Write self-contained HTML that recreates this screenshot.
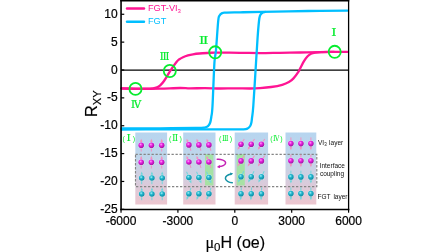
<!DOCTYPE html>
<html><head><meta charset="utf-8"><title>Hall resistance</title>
<style>html,body{margin:0;padding:0;background:#fff;width:448px;height:252px;overflow:hidden}</style>
</head><body>
<svg width="448" height="252" viewBox="0 0 448 252" style="position:absolute;left:0;top:0">
<defs>
<linearGradient id="pg" x1="0" y1="0" x2="0" y2="1"><stop offset="0" stop-color="#b7d5ef"/><stop offset="0.35" stop-color="#bfd6eb"/><stop offset="0.7" stop-color="#d9cbdb"/><stop offset="1" stop-color="#ecc6cf"/></linearGradient>
<radialGradient id="bm" cx="0.4" cy="0.35" r="0.65"><stop offset="0" stop-color="#ffa6f6"/><stop offset="0.4" stop-color="#ea22e2"/><stop offset="1" stop-color="#a012a0"/></radialGradient>
<radialGradient id="bt" cx="0.4" cy="0.35" r="0.65"><stop offset="0" stop-color="#a8f2f6"/><stop offset="0.42" stop-color="#22b6ce"/><stop offset="1" stop-color="#0f8aa2"/></radialGradient>
</defs>
<rect width="448" height="252" fill="#fff"/>
<line x1="121.05" y1="70" x2="348.6" y2="70" stroke="#000" stroke-width="1.25"/>
<g fill="none" stroke-linecap="round" stroke-linejoin="round">
<path d="M121.50,88.50C124.58,88.55 133.58,88.78 140.00,88.80C146.42,88.82 153.33,88.73 160.00,88.60C166.67,88.47 175.00,88.03 180.00,88.00C185.00,87.97 185.83,88.38 190.00,88.40C194.17,88.42 200.00,88.08 205.00,88.10C210.00,88.12 215.00,88.47 220.00,88.50C225.00,88.53 230.00,88.30 235.00,88.30C240.00,88.30 245.83,88.53 250.00,88.50C254.17,88.47 256.48,88.35 260.00,88.10C263.52,87.85 267.40,87.55 271.10,87.00C274.80,86.45 279.23,85.62 282.20,84.80C285.17,83.98 287.02,83.17 288.90,82.10C290.78,81.03 291.95,80.05 293.50,78.40C295.05,76.75 297.03,73.97 298.20,72.20C299.37,70.43 299.53,69.65 300.50,67.80C301.47,65.95 302.82,63.03 304.00,61.10C305.18,59.17 306.43,57.43 307.60,56.20C308.77,54.97 309.68,54.30 311.00,53.70C312.32,53.10 313.83,52.87 315.50,52.60C317.17,52.33 317.92,52.22 321.00,52.10C324.08,51.98 331.83,51.93 334.00,51.90" stroke="#ff1493" stroke-width="2.3"/>
<path d="M347.40,51.90C345.17,51.90 338.57,51.87 334.00,51.90C329.43,51.93 325.67,52.00 320.00,52.10C314.33,52.20 306.67,52.38 300.00,52.50C293.33,52.62 286.67,52.70 280.00,52.80C273.33,52.90 266.67,53.10 260.00,53.10C253.33,53.10 247.50,52.88 240.00,52.80C232.50,52.72 220.17,52.58 215.00,52.60C209.83,52.62 211.58,52.75 209.00,52.90C206.42,53.05 202.17,53.27 199.50,53.50C196.83,53.73 194.92,53.98 193.00,54.30C191.08,54.62 189.67,54.92 188.00,55.40C186.33,55.88 184.50,56.52 183.00,57.20C181.50,57.88 180.12,58.67 179.00,59.50C177.88,60.33 177.70,60.40 176.30,62.20C174.90,64.00 172.65,67.17 170.60,70.30C168.55,73.43 165.73,78.48 164.00,81.00C162.27,83.52 161.37,84.33 160.20,85.40C159.03,86.47 158.20,86.92 157.00,87.40C155.80,87.88 155.00,88.10 153.00,88.30C151.00,88.50 147.92,88.55 145.00,88.60C142.08,88.65 139.42,88.65 135.50,88.60C131.58,88.55 123.83,88.35 121.50,88.30" stroke="#ff1493" stroke-width="2.3"/>
<path d="M347.40,10.70C340.83,10.75 322.23,10.80 308.00,11.00C293.77,11.20 273.33,11.68 262.00,11.90C250.67,12.12 246.08,12.18 240.00,12.30C233.92,12.42 228.47,12.47 225.50,12.60C222.53,12.73 223.18,12.63 222.20,13.10C221.22,13.57 220.27,14.08 219.60,15.40C218.93,16.72 218.80,15.23 218.20,21.00C217.60,26.77 216.63,43.00 216.00,50.00C215.37,57.00 214.98,53.67 214.40,63.00C213.82,72.33 213.02,97.00 212.50,106.00C211.98,115.00 211.68,114.25 211.30,117.00C210.92,119.75 210.75,120.97 210.20,122.50C209.65,124.03 208.95,125.35 208.00,126.20C207.05,127.05 206.50,127.30 204.50,127.60C202.50,127.90 203.42,127.88 196.00,128.00C188.58,128.12 172.42,128.22 160.00,128.30C147.58,128.38 127.92,128.47 121.50,128.50" stroke="#00bfff" stroke-width="2.3"/>
<path d="M121.50,129.55C127.92,129.53 147.58,129.44 160.00,129.40C172.42,129.36 184.33,129.32 196.00,129.30C207.67,129.28 222.08,129.30 230.00,129.30C237.92,129.30 240.57,129.43 243.50,129.30C246.43,129.17 246.48,129.05 247.60,128.50C248.72,127.95 249.57,127.00 250.20,126.00C250.83,125.00 251.10,123.83 251.40,122.50C251.70,121.17 251.68,120.75 252.00,118.00C252.32,115.25 252.63,115.17 253.30,106.00C253.97,96.83 255.28,74.42 256.00,63.00C256.72,51.58 257.10,44.50 257.60,37.50C258.10,30.50 258.60,24.65 259.00,21.00C259.40,17.35 259.50,16.93 260.00,15.60C260.50,14.27 261.17,13.60 262.00,13.00C262.83,12.40 264.50,12.17 265.00,12.00" stroke="#00bfff" stroke-width="2.3"/>
</g>
<rect x="135.3" y="132.5" width="31.8" height="72.0" fill="url(#pg)"/>
<rect x="183.2" y="132.5" width="32.3" height="72.0" fill="url(#pg)"/>
<rect x="234.7" y="132.5" width="33.4" height="72.0" fill="url(#pg)"/>
<rect x="285.5" y="132.5" width="30.8" height="72.0" fill="url(#pg)"/>
<rect x="205.0" y="154.2" width="8.4" height="31.3" fill="#9fe59a" opacity="0.85"/>
<rect x="236.6" y="154.2" width="8.2" height="31.3" fill="#9fe59a" opacity="0.85"/>
<path d="M135.5,154.4H316.8V186.6H135.5Z" fill="none" stroke="#858585" stroke-width="1.15" stroke-dasharray="2.3 1.7"/>
<g id="spins">
<g transform="translate(141.2,145.3) rotate(0)"><line x1="0" y1="-4.6" x2="0" y2="6.2" stroke="#f58fbe" stroke-width="0.95"/><path d="M0,-6.6L1.25,-3.6L-1.25,-3.6Z" fill="#f58fbe"/></g>
<circle cx="141.2" cy="145.3" r="3.25" fill="#e4f4fb" opacity="0.55"/>
<circle cx="141.2" cy="145.3" r="2.8" fill="url(#bm)"/>
<g transform="translate(141.2,162.3) rotate(0)"><line x1="0" y1="-4.6" x2="0" y2="6.2" stroke="#f58fbe" stroke-width="0.95"/><path d="M0,-6.6L1.25,-3.6L-1.25,-3.6Z" fill="#f58fbe"/></g>
<circle cx="141.2" cy="162.3" r="3.25" fill="#e4f4fb" opacity="0.55"/>
<circle cx="141.2" cy="162.3" r="2.8" fill="url(#bm)"/>
<g transform="translate(141.7,178.0) rotate(0)"><line x1="0" y1="-4.6" x2="0" y2="6.2" stroke="#6fd6dc" stroke-width="0.95"/><path d="M0,-6.6L1.25,-3.6L-1.25,-3.6Z" fill="#6fd6dc"/></g>
<circle cx="141.7" cy="178.0" r="3.25" fill="#e4f4fb" opacity="0.55"/>
<circle cx="141.7" cy="178.0" r="2.8" fill="url(#bt)"/>
<g transform="translate(141.7,194.0) rotate(0)"><line x1="0" y1="-4.6" x2="0" y2="6.2" stroke="#6fd6dc" stroke-width="0.95"/><path d="M0,-6.6L1.25,-3.6L-1.25,-3.6Z" fill="#6fd6dc"/></g>
<circle cx="141.7" cy="194.0" r="3.25" fill="#e4f4fb" opacity="0.55"/>
<circle cx="141.7" cy="194.0" r="2.8" fill="url(#bt)"/>
<g transform="translate(151.4,145.3) rotate(0)"><line x1="0" y1="-4.6" x2="0" y2="6.2" stroke="#f58fbe" stroke-width="0.95"/><path d="M0,-6.6L1.25,-3.6L-1.25,-3.6Z" fill="#f58fbe"/></g>
<circle cx="151.4" cy="145.3" r="3.25" fill="#e4f4fb" opacity="0.55"/>
<circle cx="151.4" cy="145.3" r="2.8" fill="url(#bm)"/>
<g transform="translate(151.4,162.3) rotate(0)"><line x1="0" y1="-4.6" x2="0" y2="6.2" stroke="#f58fbe" stroke-width="0.95"/><path d="M0,-6.6L1.25,-3.6L-1.25,-3.6Z" fill="#f58fbe"/></g>
<circle cx="151.4" cy="162.3" r="3.25" fill="#e4f4fb" opacity="0.55"/>
<circle cx="151.4" cy="162.3" r="2.8" fill="url(#bm)"/>
<g transform="translate(151.9,178.0) rotate(0)"><line x1="0" y1="-4.6" x2="0" y2="6.2" stroke="#6fd6dc" stroke-width="0.95"/><path d="M0,-6.6L1.25,-3.6L-1.25,-3.6Z" fill="#6fd6dc"/></g>
<circle cx="151.9" cy="178.0" r="3.25" fill="#e4f4fb" opacity="0.55"/>
<circle cx="151.9" cy="178.0" r="2.8" fill="url(#bt)"/>
<g transform="translate(151.9,194.0) rotate(0)"><line x1="0" y1="-4.6" x2="0" y2="6.2" stroke="#6fd6dc" stroke-width="0.95"/><path d="M0,-6.6L1.25,-3.6L-1.25,-3.6Z" fill="#6fd6dc"/></g>
<circle cx="151.9" cy="194.0" r="3.25" fill="#e4f4fb" opacity="0.55"/>
<circle cx="151.9" cy="194.0" r="2.8" fill="url(#bt)"/>
<g transform="translate(161.7,145.3) rotate(0)"><line x1="0" y1="-4.6" x2="0" y2="6.2" stroke="#f58fbe" stroke-width="0.95"/><path d="M0,-6.6L1.25,-3.6L-1.25,-3.6Z" fill="#f58fbe"/></g>
<circle cx="161.7" cy="145.3" r="3.25" fill="#e4f4fb" opacity="0.55"/>
<circle cx="161.7" cy="145.3" r="2.8" fill="url(#bm)"/>
<g transform="translate(161.7,162.3) rotate(0)"><line x1="0" y1="-4.6" x2="0" y2="6.2" stroke="#f58fbe" stroke-width="0.95"/><path d="M0,-6.6L1.25,-3.6L-1.25,-3.6Z" fill="#f58fbe"/></g>
<circle cx="161.7" cy="162.3" r="3.25" fill="#e4f4fb" opacity="0.55"/>
<circle cx="161.7" cy="162.3" r="2.8" fill="url(#bm)"/>
<g transform="translate(162.2,178.0) rotate(0)"><line x1="0" y1="-4.6" x2="0" y2="6.2" stroke="#6fd6dc" stroke-width="0.95"/><path d="M0,-6.6L1.25,-3.6L-1.25,-3.6Z" fill="#6fd6dc"/></g>
<circle cx="162.2" cy="178.0" r="3.25" fill="#e4f4fb" opacity="0.55"/>
<circle cx="162.2" cy="178.0" r="2.8" fill="url(#bt)"/>
<g transform="translate(162.2,194.0) rotate(0)"><line x1="0" y1="-4.6" x2="0" y2="6.2" stroke="#6fd6dc" stroke-width="0.95"/><path d="M0,-6.6L1.25,-3.6L-1.25,-3.6Z" fill="#6fd6dc"/></g>
<circle cx="162.2" cy="194.0" r="3.25" fill="#e4f4fb" opacity="0.55"/>
<circle cx="162.2" cy="194.0" r="2.8" fill="url(#bt)"/>
<g transform="translate(188.9,144.9) rotate(-20)"><line x1="0" y1="-4.6" x2="0" y2="6.2" stroke="#f58fbe" stroke-width="0.95"/><path d="M0,-6.6L1.25,-3.6L-1.25,-3.6Z" fill="#f58fbe"/></g>
<circle cx="188.9" cy="144.9" r="3.25" fill="#e4f4fb" opacity="0.55"/>
<circle cx="188.9" cy="144.9" r="2.8" fill="url(#bm)"/>
<g transform="translate(188.9,162.0) rotate(-20)"><line x1="0" y1="-4.6" x2="0" y2="6.2" stroke="#f58fbe" stroke-width="0.95"/><path d="M0,-6.6L1.25,-3.6L-1.25,-3.6Z" fill="#f58fbe"/></g>
<circle cx="188.9" cy="162.0" r="3.25" fill="#e4f4fb" opacity="0.55"/>
<circle cx="188.9" cy="162.0" r="2.8" fill="url(#bm)"/>
<g transform="translate(188.9,177.5) rotate(158)"><line x1="0" y1="-4.6" x2="0" y2="6.2" stroke="#6fd6dc" stroke-width="0.95"/><path d="M0,-6.6L1.25,-3.6L-1.25,-3.6Z" fill="#6fd6dc"/></g>
<circle cx="188.9" cy="177.5" r="3.25" fill="#e4f4fb" opacity="0.55"/>
<circle cx="188.9" cy="177.5" r="2.8" fill="url(#bt)"/>
<g transform="translate(188.9,193.7) rotate(200)"><line x1="0" y1="-4.6" x2="0" y2="6.2" stroke="#6fd6dc" stroke-width="0.95"/><path d="M0,-6.6L1.25,-3.6L-1.25,-3.6Z" fill="#6fd6dc"/></g>
<circle cx="188.9" cy="193.7" r="3.25" fill="#e4f4fb" opacity="0.55"/>
<circle cx="188.9" cy="193.7" r="2.8" fill="url(#bt)"/>
<g transform="translate(198.9,144.9) rotate(-20)"><line x1="0" y1="-4.6" x2="0" y2="6.2" stroke="#f58fbe" stroke-width="0.95"/><path d="M0,-6.6L1.25,-3.6L-1.25,-3.6Z" fill="#f58fbe"/></g>
<circle cx="198.9" cy="144.9" r="3.25" fill="#e4f4fb" opacity="0.55"/>
<circle cx="198.9" cy="144.9" r="2.8" fill="url(#bm)"/>
<g transform="translate(198.9,162.0) rotate(-20)"><line x1="0" y1="-4.6" x2="0" y2="6.2" stroke="#f58fbe" stroke-width="0.95"/><path d="M0,-6.6L1.25,-3.6L-1.25,-3.6Z" fill="#f58fbe"/></g>
<circle cx="198.9" cy="162.0" r="3.25" fill="#e4f4fb" opacity="0.55"/>
<circle cx="198.9" cy="162.0" r="2.8" fill="url(#bm)"/>
<g transform="translate(198.9,177.5) rotate(158)"><line x1="0" y1="-4.6" x2="0" y2="6.2" stroke="#6fd6dc" stroke-width="0.95"/><path d="M0,-6.6L1.25,-3.6L-1.25,-3.6Z" fill="#6fd6dc"/></g>
<circle cx="198.9" cy="177.5" r="3.25" fill="#e4f4fb" opacity="0.55"/>
<circle cx="198.9" cy="177.5" r="2.8" fill="url(#bt)"/>
<g transform="translate(198.9,193.7) rotate(200)"><line x1="0" y1="-4.6" x2="0" y2="6.2" stroke="#6fd6dc" stroke-width="0.95"/><path d="M0,-6.6L1.25,-3.6L-1.25,-3.6Z" fill="#6fd6dc"/></g>
<circle cx="198.9" cy="193.7" r="3.25" fill="#e4f4fb" opacity="0.55"/>
<circle cx="198.9" cy="193.7" r="2.8" fill="url(#bt)"/>
<g transform="translate(208.9,144.9) rotate(-20)"><line x1="0" y1="-4.6" x2="0" y2="6.2" stroke="#f58fbe" stroke-width="0.95"/><path d="M0,-6.6L1.25,-3.6L-1.25,-3.6Z" fill="#f58fbe"/></g>
<circle cx="208.9" cy="144.9" r="3.25" fill="#e4f4fb" opacity="0.55"/>
<circle cx="208.9" cy="144.9" r="2.8" fill="url(#bm)"/>
<g transform="translate(208.9,162.0) rotate(-20)"><line x1="0" y1="-4.6" x2="0" y2="6.2" stroke="#f58fbe" stroke-width="0.95"/><path d="M0,-6.6L1.25,-3.6L-1.25,-3.6Z" fill="#f58fbe"/></g>
<circle cx="208.9" cy="162.0" r="3.25" fill="#e4f4fb" opacity="0.55"/>
<circle cx="208.9" cy="162.0" r="2.8" fill="url(#bm)"/>
<g transform="translate(208.9,177.5) rotate(158)"><line x1="0" y1="-4.6" x2="0" y2="6.2" stroke="#6fd6dc" stroke-width="0.95"/><path d="M0,-6.6L1.25,-3.6L-1.25,-3.6Z" fill="#6fd6dc"/></g>
<circle cx="208.9" cy="177.5" r="3.25" fill="#e4f4fb" opacity="0.55"/>
<circle cx="208.9" cy="177.5" r="2.8" fill="url(#bt)"/>
<g transform="translate(208.9,193.7) rotate(200)"><line x1="0" y1="-4.6" x2="0" y2="6.2" stroke="#6fd6dc" stroke-width="0.95"/><path d="M0,-6.6L1.25,-3.6L-1.25,-3.6Z" fill="#6fd6dc"/></g>
<circle cx="208.9" cy="193.7" r="3.25" fill="#e4f4fb" opacity="0.55"/>
<circle cx="208.9" cy="193.7" r="2.8" fill="url(#bt)"/>
<g transform="translate(241.0,144.2) rotate(212)"><line x1="0" y1="-4.6" x2="0" y2="6.2" stroke="#f58fbe" stroke-width="0.95"/><path d="M0,-6.6L1.25,-3.6L-1.25,-3.6Z" fill="#f58fbe"/></g>
<circle cx="241.0" cy="144.2" r="3.25" fill="#e4f4fb" opacity="0.55"/>
<circle cx="241.0" cy="144.2" r="2.8" fill="url(#bm)"/>
<g transform="translate(241.0,160.9) rotate(212)"><line x1="0" y1="-4.6" x2="0" y2="6.2" stroke="#f58fbe" stroke-width="0.95"/><path d="M0,-6.6L1.25,-3.6L-1.25,-3.6Z" fill="#f58fbe"/></g>
<circle cx="241.0" cy="160.9" r="3.25" fill="#e4f4fb" opacity="0.55"/>
<circle cx="241.0" cy="160.9" r="2.8" fill="url(#bm)"/>
<g transform="translate(241.0,176.7) rotate(207)"><line x1="0" y1="-4.6" x2="0" y2="6.2" stroke="#6fd6dc" stroke-width="0.95"/><path d="M0,-6.6L1.25,-3.6L-1.25,-3.6Z" fill="#6fd6dc"/></g>
<circle cx="241.0" cy="176.7" r="3.25" fill="#e4f4fb" opacity="0.55"/>
<circle cx="241.0" cy="176.7" r="2.8" fill="url(#bt)"/>
<g transform="translate(241.0,193.7) rotate(183)"><line x1="0" y1="-4.6" x2="0" y2="6.2" stroke="#6fd6dc" stroke-width="0.95"/><path d="M0,-6.6L1.25,-3.6L-1.25,-3.6Z" fill="#6fd6dc"/></g>
<circle cx="241.0" cy="193.7" r="3.25" fill="#e4f4fb" opacity="0.55"/>
<circle cx="241.0" cy="193.7" r="2.8" fill="url(#bt)"/>
<g transform="translate(251.2,144.2) rotate(212)"><line x1="0" y1="-4.6" x2="0" y2="6.2" stroke="#f58fbe" stroke-width="0.95"/><path d="M0,-6.6L1.25,-3.6L-1.25,-3.6Z" fill="#f58fbe"/></g>
<circle cx="251.2" cy="144.2" r="3.25" fill="#e4f4fb" opacity="0.55"/>
<circle cx="251.2" cy="144.2" r="2.8" fill="url(#bm)"/>
<g transform="translate(251.2,160.9) rotate(212)"><line x1="0" y1="-4.6" x2="0" y2="6.2" stroke="#f58fbe" stroke-width="0.95"/><path d="M0,-6.6L1.25,-3.6L-1.25,-3.6Z" fill="#f58fbe"/></g>
<circle cx="251.2" cy="160.9" r="3.25" fill="#e4f4fb" opacity="0.55"/>
<circle cx="251.2" cy="160.9" r="2.8" fill="url(#bm)"/>
<g transform="translate(251.2,176.7) rotate(207)"><line x1="0" y1="-4.6" x2="0" y2="6.2" stroke="#6fd6dc" stroke-width="0.95"/><path d="M0,-6.6L1.25,-3.6L-1.25,-3.6Z" fill="#6fd6dc"/></g>
<circle cx="251.2" cy="176.7" r="3.25" fill="#e4f4fb" opacity="0.55"/>
<circle cx="251.2" cy="176.7" r="2.8" fill="url(#bt)"/>
<g transform="translate(251.2,193.7) rotate(183)"><line x1="0" y1="-4.6" x2="0" y2="6.2" stroke="#6fd6dc" stroke-width="0.95"/><path d="M0,-6.6L1.25,-3.6L-1.25,-3.6Z" fill="#6fd6dc"/></g>
<circle cx="251.2" cy="193.7" r="3.25" fill="#e4f4fb" opacity="0.55"/>
<circle cx="251.2" cy="193.7" r="2.8" fill="url(#bt)"/>
<g transform="translate(261.4,144.2) rotate(212)"><line x1="0" y1="-4.6" x2="0" y2="6.2" stroke="#f58fbe" stroke-width="0.95"/><path d="M0,-6.6L1.25,-3.6L-1.25,-3.6Z" fill="#f58fbe"/></g>
<circle cx="261.4" cy="144.2" r="3.25" fill="#e4f4fb" opacity="0.55"/>
<circle cx="261.4" cy="144.2" r="2.8" fill="url(#bm)"/>
<g transform="translate(261.4,160.9) rotate(212)"><line x1="0" y1="-4.6" x2="0" y2="6.2" stroke="#f58fbe" stroke-width="0.95"/><path d="M0,-6.6L1.25,-3.6L-1.25,-3.6Z" fill="#f58fbe"/></g>
<circle cx="261.4" cy="160.9" r="3.25" fill="#e4f4fb" opacity="0.55"/>
<circle cx="261.4" cy="160.9" r="2.8" fill="url(#bm)"/>
<g transform="translate(261.4,176.7) rotate(207)"><line x1="0" y1="-4.6" x2="0" y2="6.2" stroke="#6fd6dc" stroke-width="0.95"/><path d="M0,-6.6L1.25,-3.6L-1.25,-3.6Z" fill="#6fd6dc"/></g>
<circle cx="261.4" cy="176.7" r="3.25" fill="#e4f4fb" opacity="0.55"/>
<circle cx="261.4" cy="176.7" r="2.8" fill="url(#bt)"/>
<g transform="translate(261.4,193.7) rotate(183)"><line x1="0" y1="-4.6" x2="0" y2="6.2" stroke="#6fd6dc" stroke-width="0.95"/><path d="M0,-6.6L1.25,-3.6L-1.25,-3.6Z" fill="#6fd6dc"/></g>
<circle cx="261.4" cy="193.7" r="3.25" fill="#e4f4fb" opacity="0.55"/>
<circle cx="261.4" cy="193.7" r="2.8" fill="url(#bt)"/>
<g transform="translate(290.9,143.6) rotate(180)"><line x1="0" y1="-4.6" x2="0" y2="6.2" stroke="#f58fbe" stroke-width="0.95"/><path d="M0,-6.6L1.25,-3.6L-1.25,-3.6Z" fill="#f58fbe"/></g>
<circle cx="290.9" cy="143.6" r="3.25" fill="#e4f4fb" opacity="0.55"/>
<circle cx="290.9" cy="143.6" r="2.8" fill="url(#bm)"/>
<g transform="translate(290.9,160.7) rotate(180)"><line x1="0" y1="-4.6" x2="0" y2="6.2" stroke="#f58fbe" stroke-width="0.95"/><path d="M0,-6.6L1.25,-3.6L-1.25,-3.6Z" fill="#f58fbe"/></g>
<circle cx="290.9" cy="160.7" r="3.25" fill="#e4f4fb" opacity="0.55"/>
<circle cx="290.9" cy="160.7" r="2.8" fill="url(#bm)"/>
<g transform="translate(290.9,176.9) rotate(180)"><line x1="0" y1="-4.6" x2="0" y2="6.2" stroke="#6fd6dc" stroke-width="0.95"/><path d="M0,-6.6L1.25,-3.6L-1.25,-3.6Z" fill="#6fd6dc"/></g>
<circle cx="290.9" cy="176.9" r="3.25" fill="#e4f4fb" opacity="0.55"/>
<circle cx="290.9" cy="176.9" r="2.8" fill="url(#bt)"/>
<g transform="translate(290.9,193.6) rotate(180)"><line x1="0" y1="-4.6" x2="0" y2="6.2" stroke="#6fd6dc" stroke-width="0.95"/><path d="M0,-6.6L1.25,-3.6L-1.25,-3.6Z" fill="#6fd6dc"/></g>
<circle cx="290.9" cy="193.6" r="3.25" fill="#e4f4fb" opacity="0.55"/>
<circle cx="290.9" cy="193.6" r="2.8" fill="url(#bt)"/>
<g transform="translate(300.9,143.6) rotate(180)"><line x1="0" y1="-4.6" x2="0" y2="6.2" stroke="#f58fbe" stroke-width="0.95"/><path d="M0,-6.6L1.25,-3.6L-1.25,-3.6Z" fill="#f58fbe"/></g>
<circle cx="300.9" cy="143.6" r="3.25" fill="#e4f4fb" opacity="0.55"/>
<circle cx="300.9" cy="143.6" r="2.8" fill="url(#bm)"/>
<g transform="translate(300.9,160.7) rotate(180)"><line x1="0" y1="-4.6" x2="0" y2="6.2" stroke="#f58fbe" stroke-width="0.95"/><path d="M0,-6.6L1.25,-3.6L-1.25,-3.6Z" fill="#f58fbe"/></g>
<circle cx="300.9" cy="160.7" r="3.25" fill="#e4f4fb" opacity="0.55"/>
<circle cx="300.9" cy="160.7" r="2.8" fill="url(#bm)"/>
<g transform="translate(300.9,176.9) rotate(180)"><line x1="0" y1="-4.6" x2="0" y2="6.2" stroke="#6fd6dc" stroke-width="0.95"/><path d="M0,-6.6L1.25,-3.6L-1.25,-3.6Z" fill="#6fd6dc"/></g>
<circle cx="300.9" cy="176.9" r="3.25" fill="#e4f4fb" opacity="0.55"/>
<circle cx="300.9" cy="176.9" r="2.8" fill="url(#bt)"/>
<g transform="translate(300.9,193.6) rotate(180)"><line x1="0" y1="-4.6" x2="0" y2="6.2" stroke="#6fd6dc" stroke-width="0.95"/><path d="M0,-6.6L1.25,-3.6L-1.25,-3.6Z" fill="#6fd6dc"/></g>
<circle cx="300.9" cy="193.6" r="3.25" fill="#e4f4fb" opacity="0.55"/>
<circle cx="300.9" cy="193.6" r="2.8" fill="url(#bt)"/>
<g transform="translate(310.9,143.6) rotate(180)"><line x1="0" y1="-4.6" x2="0" y2="6.2" stroke="#f58fbe" stroke-width="0.95"/><path d="M0,-6.6L1.25,-3.6L-1.25,-3.6Z" fill="#f58fbe"/></g>
<circle cx="310.9" cy="143.6" r="3.25" fill="#e4f4fb" opacity="0.55"/>
<circle cx="310.9" cy="143.6" r="2.8" fill="url(#bm)"/>
<g transform="translate(310.9,160.7) rotate(180)"><line x1="0" y1="-4.6" x2="0" y2="6.2" stroke="#f58fbe" stroke-width="0.95"/><path d="M0,-6.6L1.25,-3.6L-1.25,-3.6Z" fill="#f58fbe"/></g>
<circle cx="310.9" cy="160.7" r="3.25" fill="#e4f4fb" opacity="0.55"/>
<circle cx="310.9" cy="160.7" r="2.8" fill="url(#bm)"/>
<g transform="translate(310.9,176.9) rotate(180)"><line x1="0" y1="-4.6" x2="0" y2="6.2" stroke="#6fd6dc" stroke-width="0.95"/><path d="M0,-6.6L1.25,-3.6L-1.25,-3.6Z" fill="#6fd6dc"/></g>
<circle cx="310.9" cy="176.9" r="3.25" fill="#e4f4fb" opacity="0.55"/>
<circle cx="310.9" cy="176.9" r="2.8" fill="url(#bt)"/>
<g transform="translate(310.9,193.6) rotate(180)"><line x1="0" y1="-4.6" x2="0" y2="6.2" stroke="#6fd6dc" stroke-width="0.95"/><path d="M0,-6.6L1.25,-3.6L-1.25,-3.6Z" fill="#6fd6dc"/></g>
<circle cx="310.9" cy="193.6" r="3.25" fill="#e4f4fb" opacity="0.55"/>
<circle cx="310.9" cy="193.6" r="2.8" fill="url(#bt)"/>
</g>
<path d="M217.2,159.3C221,159.0 225.7,160.5 225.6,162.9C225.5,165.1 221.6,166.4 219.0,166.6" fill="none" stroke="#c422b4" stroke-width="1.5" stroke-linecap="round"/>
<path d="M216.8,166.9L219.8,165.0L220.0,168.3Z" fill="#c422b4"/>
<path d="M232.3,182.7C229,182.4 225.3,180.7 225.4,178.2C225.5,176.0 228.8,174.5 231.0,174.0" fill="none" stroke="#1693a6" stroke-width="1.5" stroke-linecap="round"/>
<path d="M233.2,173.4L230.6,175.6L230.0,172.4Z" fill="#1693a6"/>
<path d="M121.05,-0.04999999999999993V210.2" stroke="#000" stroke-width="1.6" fill="none"/>
<path d="M348.6,-0.04999999999999993V210.2" stroke="#000" stroke-width="1.3" fill="none"/>
<path d="M120.25,0.6H349.25" stroke="#000" stroke-width="2.0" fill="none"/>
<path d="M120.25,209.5H349.3" stroke="#000" stroke-width="1.4" fill="none"/>
<line x1="121.05" y1="14.27" x2="124.25" y2="14.27" stroke="#000" stroke-width="1.2"/>
<line x1="121.05" y1="42.13" x2="124.25" y2="42.13" stroke="#000" stroke-width="1.2"/>
<line x1="121.05" y1="70.00" x2="124.25" y2="70.00" stroke="#000" stroke-width="1.2"/>
<line x1="121.05" y1="97.87" x2="124.25" y2="97.87" stroke="#000" stroke-width="1.2"/>
<line x1="121.05" y1="125.73" x2="124.25" y2="125.73" stroke="#000" stroke-width="1.2"/>
<line x1="121.05" y1="153.59" x2="124.25" y2="153.59" stroke="#000" stroke-width="1.2"/>
<line x1="121.05" y1="181.46" x2="124.25" y2="181.46" stroke="#000" stroke-width="1.2"/>
<line x1="121.05" y1="209.33" x2="124.25" y2="209.33" stroke="#000" stroke-width="1.2"/>
<line x1="121.03" y1="209.5" x2="121.03" y2="212.7" stroke="#000" stroke-width="1.2"/>
<line x1="177.91" y1="209.5" x2="177.91" y2="212.7" stroke="#000" stroke-width="1.2"/>
<line x1="234.80" y1="209.5" x2="234.80" y2="212.7" stroke="#000" stroke-width="1.2"/>
<line x1="291.69" y1="209.5" x2="291.69" y2="212.7" stroke="#000" stroke-width="1.2"/>
<line x1="348.58" y1="209.5" x2="348.58" y2="212.7" stroke="#000" stroke-width="1.2"/>
<circle cx="334.7" cy="51.8" r="6.05" fill="none" stroke="#06ec2e" stroke-width="1.8"/>
<circle cx="215.2" cy="52.3" r="6.05" fill="none" stroke="#06ec2e" stroke-width="1.8"/>
<circle cx="169.8" cy="71.0" r="6.05" fill="none" stroke="#06ec2e" stroke-width="1.8"/>
<circle cx="135.5" cy="88.9" r="6.05" fill="none" stroke="#06ec2e" stroke-width="1.8"/>
<line x1="127" y1="8.5" x2="144" y2="8.5" stroke="#ff1493" stroke-width="2.4" stroke-linecap="round"/>
<line x1="127" y1="21.8" x2="144" y2="21.8" stroke="#00bfff" stroke-width="2.4" stroke-linecap="round"/>
<text x="148" y="11.2" font-family="Liberation Sans, Arial, sans-serif" font-size="9.2" fill="#ff1493">FGT-VI<tspan font-size="6" dy="2">3</tspan></text>
<text x="148" y="24.2" font-family="Liberation Sans, Arial, sans-serif" font-size="9.2" fill="#00bfff">FGT</text>
<text x="117.6" y="17.82" font-family="Liberation Sans, Arial, sans-serif" font-size="12" text-anchor="end" fill="#000" stroke="#000" stroke-width="0.2">10</text>
<text x="117.6" y="45.68" font-family="Liberation Sans, Arial, sans-serif" font-size="12" text-anchor="end" fill="#000" stroke="#000" stroke-width="0.2">5</text>
<text x="117.6" y="73.55" font-family="Liberation Sans, Arial, sans-serif" font-size="12" text-anchor="end" fill="#000" stroke="#000" stroke-width="0.2">0</text>
<text x="117.6" y="101.42" font-family="Liberation Sans, Arial, sans-serif" font-size="12" text-anchor="end" fill="#000" stroke="#000" stroke-width="0.2">-5</text>
<text x="117.6" y="129.28" font-family="Liberation Sans, Arial, sans-serif" font-size="12" text-anchor="end" fill="#000" stroke="#000" stroke-width="0.2">-10</text>
<text x="117.6" y="157.15" font-family="Liberation Sans, Arial, sans-serif" font-size="12" text-anchor="end" fill="#000" stroke="#000" stroke-width="0.2">-15</text>
<text x="117.6" y="185.01" font-family="Liberation Sans, Arial, sans-serif" font-size="12" text-anchor="end" fill="#000" stroke="#000" stroke-width="0.2">-20</text>
<text x="117.6" y="212.88" font-family="Liberation Sans, Arial, sans-serif" font-size="12" text-anchor="end" fill="#000" stroke="#000" stroke-width="0.2">-25</text>
<text x="121.03" y="224.6" font-family="Liberation Sans, Arial, sans-serif" font-size="12" text-anchor="middle" fill="#000" stroke="#000" stroke-width="0.2">-6000</text>
<text x="177.91" y="224.6" font-family="Liberation Sans, Arial, sans-serif" font-size="12" text-anchor="middle" fill="#000" stroke="#000" stroke-width="0.2">-3000</text>
<text x="234.80" y="224.6" font-family="Liberation Sans, Arial, sans-serif" font-size="12" text-anchor="middle" fill="#000" stroke="#000" stroke-width="0.2">0</text>
<text x="291.69" y="224.6" font-family="Liberation Sans, Arial, sans-serif" font-size="12" text-anchor="middle" fill="#000" stroke="#000" stroke-width="0.2">3000</text>
<text x="348.58" y="224.6" font-family="Liberation Sans, Arial, sans-serif" font-size="12" text-anchor="middle" fill="#000" stroke="#000" stroke-width="0.2">6000</text>
<text x="205.4" y="247.5" font-family="Liberation Sans, Arial, sans-serif" font-size="16.1" fill="#000" stroke="#000" stroke-width="0.15"><tspan font-family="Liberation Serif, serif" font-size="16.1">μ</tspan><tspan font-size="11.5" dy="3.9">0</tspan><tspan dy="-3.9">H (oe)</tspan></text>
<text transform="translate(96.8,117.0) rotate(-90)" font-family="Liberation Sans, Arial, sans-serif" font-size="16.3" fill="#000" stroke="#000" stroke-width="0.15">R<tspan font-size="11.2" dy="3.9">XY</tspan></text>
<text transform="translate(333.9,35.5) scale(1.180,1)" x="0" y="0" font-family="DejaVu Serif, Liberation Serif, serif" font-size="11.3" text-anchor="middle" fill="#06ec2e" stroke="#06ec2e" stroke-width="0.25">Ⅰ</text>
<text transform="translate(203.7,44.1) scale(1.213,1)" x="0" y="0" font-family="DejaVu Serif, Liberation Serif, serif" font-size="11.3" text-anchor="middle" fill="#06ec2e" stroke="#06ec2e" stroke-width="0.25">Ⅱ</text>
<text transform="translate(164.6,60.1) scale(0.891,1)" x="0" y="0" font-family="DejaVu Serif, Liberation Serif, serif" font-size="11.3" text-anchor="middle" fill="#06ec2e" stroke="#06ec2e" stroke-width="0.25">Ⅲ</text>
<text transform="translate(136.2,107.7) scale(0.965,1)" x="0" y="0" font-family="DejaVu Serif, Liberation Serif, serif" font-size="10.6" text-anchor="middle" fill="#06ec2e" stroke="#06ec2e" stroke-width="0.25">Ⅳ</text>
<text transform="translate(128.6,140.9) scale(1.462,1)" x="0" y="0" font-family="DejaVu Serif, Liberation Serif, serif" font-size="8.4" text-anchor="middle" fill="#06ec2e" stroke="#06ec2e" stroke-width="0">Ⅰ</text>
<text x="123.69999999999999" y="140.7" font-family="Liberation Sans, sans-serif" font-size="7.1" text-anchor="middle" fill="#06ec2e">(</text>
<text x="134.0" y="140.7" font-family="Liberation Sans, sans-serif" font-size="7.1" text-anchor="middle" fill="#06ec2e">)</text>
<text transform="translate(175.2,140.9) scale(1.088,1)" x="0" y="0" font-family="DejaVu Serif, Liberation Serif, serif" font-size="8.4" text-anchor="middle" fill="#06ec2e" stroke="#06ec2e" stroke-width="0">Ⅱ</text>
<text x="170.1" y="140.7" font-family="Liberation Sans, sans-serif" font-size="7.1" text-anchor="middle" fill="#06ec2e">(</text>
<text x="180.79999999999998" y="140.7" font-family="Liberation Sans, sans-serif" font-size="7.1" text-anchor="middle" fill="#06ec2e">)</text>
<text transform="translate(225.3,140.9) scale(0.809,1)" x="0" y="0" font-family="DejaVu Serif, Liberation Serif, serif" font-size="8.4" text-anchor="middle" fill="#06ec2e" stroke="#06ec2e" stroke-width="0">Ⅲ</text>
<text x="220.20000000000002" y="140.7" font-family="Liberation Sans, sans-serif" font-size="7.1" text-anchor="middle" fill="#06ec2e">(</text>
<text x="230.9" y="140.7" font-family="Liberation Sans, sans-serif" font-size="7.1" text-anchor="middle" fill="#06ec2e">)</text>
<text transform="translate(276.2,140.9) scale(0.770,1)" x="0" y="0" font-family="DejaVu Serif, Liberation Serif, serif" font-size="8.4" text-anchor="middle" fill="#06ec2e" stroke="#06ec2e" stroke-width="0">Ⅳ</text>
<text x="271.4" y="140.7" font-family="Liberation Sans, sans-serif" font-size="7.1" text-anchor="middle" fill="#06ec2e">(</text>
<text x="281.5" y="140.7" font-family="Liberation Sans, sans-serif" font-size="7.1" text-anchor="middle" fill="#06ec2e">)</text>
<text x="318" y="144.6" font-family="Liberation Sans, Arial, sans-serif" font-size="6.5" fill="#111" word-spacing="0.6">VI<tspan font-size="4.5" dy="1.1">3</tspan><tspan dy="-1.1"> layer</tspan></text>
<text x="332.3" y="167.6" font-family="Liberation Sans, Arial, sans-serif" font-size="6.5" text-anchor="middle" fill="#111">Interface</text>
<text x="332.0" y="176.0" font-family="Liberation Sans, Arial, sans-serif" font-size="6.5" text-anchor="middle" fill="#111">coupling</text>
<text x="317.5" y="199.4" font-family="Liberation Sans, Arial, sans-serif" font-size="6.5" fill="#111" word-spacing="1.2">FGT layer</text>
</svg>
</body></html>
